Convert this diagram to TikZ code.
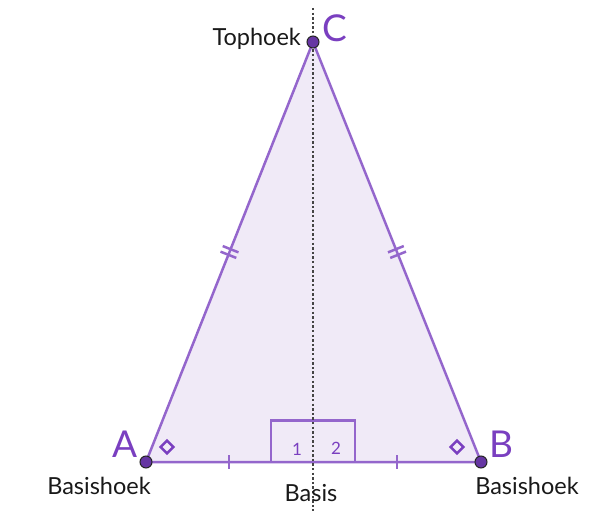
\documentclass[tikz,border=0pt]{standalone}
\usepackage{fontspec}
\setmainfont{Lato}
\usetikzlibrary{calc}
\definecolor{edge}{HTML}{9466CC}
\definecolor{fillc}{HTML}{F0EAF7}
\definecolor{lett}{HTML}{7A3FC0}
\definecolor{dotc}{HTML}{6636A3}
\definecolor{dotline}{HTML}{444444}
\tikzset{
  side/.style={draw=edge, line width=2.5pt},
  vdot/.style={circle, fill=dotc, draw=black!85, line width=1pt, inner sep=0pt, minimum size=12pt},
  vletter/.style={text=lett, font=\fontsize{37}{37}\selectfont, inner sep=0pt},
  lbl/.style={text=black!90, font=\fontsize{23.5}{24}\selectfont, inner sep=0pt},
  num/.style={text=lett, font=\fontsize{17}{17}\selectfont, inner sep=0pt},
  tick/.style={draw=edge, line width=2.5pt},
  diam/.style={draw=lett, line width=2.5pt, rectangle, rotate=45, minimum size=9pt, inner sep=0pt},
}
\begin{document}
\begin{tikzpicture}[x=1pt,y=-1pt]
\useasboundingbox (0,0) rectangle (595,511);
\coordinate (A) at (146,462);
\coordinate (B) at (481,462);
\coordinate (C) at (313,42);
\coordinate (top) at (313,8);
\coordinate (bot) at (313,511);
\fill[fillc] (A) -- (B) -- (C) -- cycle;
% right-angle box
\draw[side] (271,462) -- (271,420.5) -- (355,420.5) -- (355,462);
\node[num] (n1) at (297,449) {1};
\node[num] (n2) at (336,448) {2};
\draw[side, line join=round] (A) -- (C) -- (B) -- cycle;
% dotted axis
\draw[dotline, line width=2.6pt, dash pattern=on 2.4pt off 2.2pt] (top) -- (bot);
% ticks on base
\draw[tick] (229,455) -- (229,469);
\draw[tick] (397,455) -- (397,469);
% double ticks on sides
\foreach \P/\Q in {A/C, B/C}{
  \path let \p1=($(\Q)-(\P)$), \n1={atan2(\y1,\x1)} in
    coordinate (m) at ($(\P)!0.5!(\Q)$)
    [shift={(m)}, rotate=\n1]
    coordinate (a1) at (-3,-8.5) coordinate (a2) at (-3,8.5)
    coordinate (b1) at (3,-8.5) coordinate (b2) at (3,8.5);
  \draw[tick] (a1) -- (a2);
  \draw[tick] (b1) -- (b2);
}
% angle diamonds
\node[diam] (dA) at (167,447) {};
\node[diam] (dB) at (457,447) {};
% vertices
\node[vdot] (vA) at (A) {};
\node[vdot] (vB) at (B) {};
\node[vdot] (vC) at (C) {};
\node[vletter] (lA) at (125,444) {A};
\node[vletter] (lB) at (501,444) {B};
\node[vletter] (lC) at (335,28) {C};
\node[lbl, anchor=east] (tph) at (301,39) {Tophoek};
\node[lbl] (bhA) at (99,486) {Basishoek};
\node[lbl] (bhB) at (527,486) {Basishoek};
\node[lbl] (bas) at (311,493) {Basis};
\end{tikzpicture}
\end{document}
